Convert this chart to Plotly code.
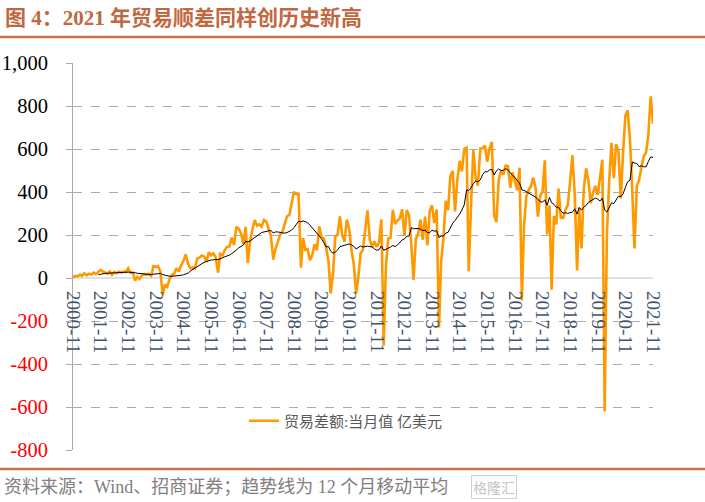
import pandas as pd
import plotly.graph_objects as go

# ---- data (亿美元), monthly 2000-11 .. 2021-11 ----
v2000 = [3, 10]
v2001 = [8, 15, 10, 22, 12, 20, 15, 25, 18, 28, 38, 30]
v2002 = [25, 20, 30, 15, 28, 22, 30, 25, 30, 28, 45, 25]
v2003 = [25, -12, 5, -5, 12, 18, 15, 20, 10, 55, 52, 55]
v2004 = [30, -80, -30, -40, -5, 15, 20, 45, 30, 60, 80, 110]
v2005 = [65, 45, 50, 45, 90, 95, 105, 100, 75, 120, 105, 115]
v2006 = [96, 25, 112, 105, 130, 145, 146, 188, 153, 238, 229, 208]
v2007 = [159, 238, 69, 169, 225, 270, 244, 250, 239, 270, 263, 227]
v2008 = [195, 86, 134, 167, 202, 214, 253, 287, 293, 352, 401, 390]
v2009 = [391, 48, 186, 131, 134, 83, 106, 157, 129, 240, 191, 184]
v2010 = [142, 76, -72, 17, 195, 200, 287, 200, 169, 272, 229, 131]
v2011 = [65, -73, 1, 114, 131, 223, 315, 178, 145, 170, 145, 165]
v2012 = [273, -315, 54, 184, 187, 317, 251, 267, 277, 320, 196, 316]
v2013 = [292, 152, -9, 182, 204, 271, 178, 285, 152, 311, 338, 256]
v2014 = [319, -230, 77, 185, 359, 316, 473, 498, 310, 454, 545, 496]
v2015 = [600, 606, 31, 341, 595, 465, 430, 602, 603, 616, 541, 601]
v2016 = [633, 290, 260, 456, 500, 481, 523, 521, 420, 491, 446, 408]
v2017 = [513, -105, 239, 380, 408, 428, 467, 420, 285, 382, 402, 547]
v2018 = [203, 337, -55, 288, 249, 416, 281, 279, 317, 340, 447, 571]
v2019 = [392, 35, 326, 138, 417, 510, 451, 348, 397, 428, 387, 468]
v2020 = [550, -621, 199, 453, 629, 464, 623, 589, 370, 584, 754, 780]
v2021 = [640, 392, 138, 428, 455, 515, 565, 583, 667, 845, 717]

balance = (v2000 + v2001 + v2002 + v2003 + v2004 + v2005 + v2006 + v2007 +
           v2008 + v2009 + v2010 + v2011 + v2012 + v2013 + v2014 + v2015 +
           v2016 + v2017 + v2018 + v2019 + v2020 + v2021)
months = pd.date_range("2000-11-01", "2021-11-01", freq="MS")
trend = pd.Series(balance).rolling(12).mean()  # 12个月移动平均

x_tick_dates = pd.date_range("2000-11-01", "2021-11-01", freq="12MS")
x_tick_text = [d.strftime("%Y-%m") for d in x_tick_dates]
pos_ticks = [0, 200, 400, 600, 800, 1000]
pos_text = ["0", "200", "400", "600", "800", "1,000"]
neg_ticks = [-800, -600, -400, -200]
neg_text = ["-800", "-600", "-400", "-200"]
y_min, y_max = -800, 1000

series_name = "贸易差额:当月值 亿美元"
title_text = "图 4：2021 年贸易顺差同样创历史新高"
source_text = "资料来源：Wind、招商证券；趋势线为 12 个月移动平均"

SERIF = "Liberation Serif, Times New Roman, Noto Sans CJK SC, serif"
ACCENT = "#C5734F"
GRID = "#ABABAB"

fig = go.Figure()
fig.add_trace(go.Scatter(x=months, y=balance, mode="lines", name=series_name,
                         line=dict(color="#FF9900", width=2.6), yaxis="y"))
fig.add_trace(go.Scatter(x=months, y=trend, mode="lines", name="12个月移动平均",
                         line=dict(color="#000000", width=1), showlegend=False,
                         yaxis="y2"))

L, R, T, B = 73, 52, 63, 52
W, H = 705, 502
pw, ph = W - L - R, H - T - B


def px_x(px):
    return (px - L) / pw


def px_y(py):
    return (H - B - py) / ph


fig.update_layout(
    width=W, height=H,
    margin=dict(l=L, r=R, t=T, b=B, autoexpand=False),
    paper_bgcolor="white", plot_bgcolor="white",
    font=dict(family=SERIF),
    xaxis=dict(
        type="date",
        range=[months[0], months[-1]],
        tickvals=x_tick_dates, ticktext=x_tick_text,
        tickangle=90,
        tickfont=dict(family=SERIF, size=19, color="#44546A"),
        showgrid=False, zeroline=False, showline=False, ticks="",
        anchor="free", position=(0 - y_min) / (y_max - y_min),
        ticklabelstandoff=12, automargin=False,
    ),
    yaxis=dict(
        range=[y_min, y_max],
        tickvals=pos_ticks, ticktext=pos_text,
        tickfont=dict(family=SERIF, size=20.5, color="#000000"),
        showgrid=True, gridcolor=GRID, griddash="dash", gridwidth=1,
        zeroline=True, zerolinecolor="#DCE1E8", zerolinewidth=2,
        showline=True, linecolor=GRID, linewidth=1,
        ticks="outside", ticklen=6, tickcolor=GRID,
        ticklabelstandoff=14, automargin=False,
    ),
    yaxis2=dict(
        overlaying="y", side="left",
        range=[y_min, y_max],
        tickvals=neg_ticks, ticktext=neg_text,
        tickfont=dict(family=SERIF, size=20.5, color="#FF0000"),
        showgrid=True, gridcolor=GRID, griddash="dash", gridwidth=1,
        zeroline=False, showline=False,
        ticks="outside", ticklen=6, tickcolor=GRID,
        ticklabelstandoff=14, automargin=False,
    ),
    legend=dict(
        x=px_x(244), y=px_y(421), xanchor="left", yanchor="middle",
        bgcolor="rgba(0,0,0,0)",
        font=dict(family=SERIF, size=15, color="#595959"),
    ),
    showlegend=True,
)

fig.add_annotation(text="<b>" + title_text + "</b>", xref="paper", yref="paper",
                   x=px_x(3), y=px_y(18), xanchor="left", yanchor="middle",
                   showarrow=False,
                   font=dict(family=SERIF, size=21, color="#C0683F"))
fig.add_annotation(text=source_text, xref="paper", yref="paper",
                   x=px_x(2), y=px_y(487), xanchor="left", yanchor="middle",
                   showarrow=False,
                   font=dict(family=SERIF, size=18, color="#808080"))
fig.add_annotation(text="格隆汇", xref="paper", yref="paper",
                   x=px_x(494), y=px_y(487), xanchor="center", yanchor="middle",
                   showarrow=False, bordercolor="#D0D0D0", borderwidth=1,
                   borderpad=1,
                   font=dict(family="Noto Sans CJK SC", size=14, color="#C4C4C4"))

fig.add_shape(type="line", xref="paper", yref="paper",
              x0=px_x(0), x1=px_x(W), y0=px_y(37), y1=px_y(37),
              line=dict(color=ACCENT, width=2.5))
fig.add_shape(type="line", xref="paper", yref="paper",
              x0=px_x(0), x1=px_x(W), y0=px_y(469), y1=px_y(469),
              line=dict(color=ACCENT, width=2.5))

fig.write_html("out.html", config={"displayModeBar": False},
               post_script="document.body.style.margin='0';document.body.style.padding='0';")
